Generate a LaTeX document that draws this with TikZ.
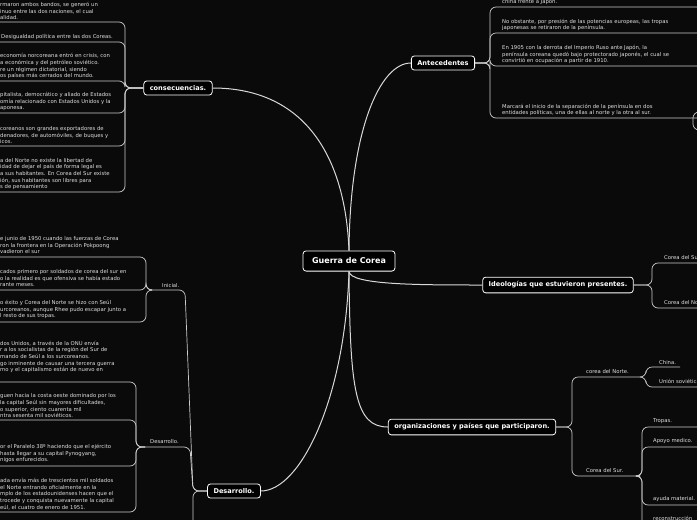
\documentclass[tikz,border=0pt]{standalone}
\usepackage{fontspec}
\setmainfont{DejaVu Sans}
\begin{document}
\begin{tikzpicture}[x=1pt,y=-1pt,
  ln/.style={draw=black!20!white, line width=0.7pt, rounded corners=6pt},
  mainln/.style={draw=black!15!white, line width=1pt},
  leaf/.style={text=black!12!white, font=\fontsize{5.3}{6.6}\selectfont, align=left, inner sep=0pt, anchor=south west},
  topic/.style={draw=white, line width=0.8pt, fill=black, rounded corners=3pt, text=white, font=\fontsize{6.6}{8}\selectfont\bfseries, inner xsep=6pt, inner ysep=4.5pt},
  center/.style={topic, font=\fontsize{8}{10}\selectfont\bfseries, inner xsep=9pt, inner ysep=7pt}]
\fill[black!96!white] (0,0) rectangle (697,520);
\useasboundingbox (0,0) rectangle (697,520);

\node[center] (c) at (349,261) {Guerra de Corea};
\node[topic] (ant) at (443,63) {Antecedentes};
\node[topic] (con) at (178,88) {consecuencias.};
\node[topic] (ide) at (558,285) {Ideologías que estuvieron presentes.};
\node[topic] (org) at (472,427) {organizaciones y países que participaron.};
\node[topic] (des) at (234,491) {Desarrollo.};

\draw[mainln] (c.north) .. controls (350,130) and (380,63) .. (ant.west);
\draw[mainln] (c.north) .. controls (345,150) and (300,88) .. (con.east);
\draw[mainln] (c.south) .. controls (350,285) and (420,285) .. (ide.west);
\draw[mainln] (c.south) .. controls (350,390) and (355,427) .. (org.west);
\draw[mainln] (c.south) .. controls (345,400) and (300,491) .. (des.east);

% consecuencias leaves
\coordinate (cr) at (con.west);
\foreach \y in {22,42,81,113,146,192}{\draw[ln] (cr) -- (125,88) -- (125,\y) -- (0,\y);}
\node[leaf] (c1) at (0,20) {rmaron ambos bandos, se generó un\\inuo entre las dos naciones, el cual\\alidad.};
\node[leaf] (c2) at (1,40) {Desigualdad política entre las dos Coreas.};
\node[leaf] (c3) at (0,79) {economía norcoreana entró en crisis, con\\a económica y del petróleo soviético.\\re un régimen dictatorial, siendo\\os países más cerrados del mundo.};
\node[leaf] (c4) at (0,111) {pitalista, democrático y aliado de Estados\\omía relacionado con Estados Unidos y la\\aponesa.};
\node[leaf] (c5) at (0,144) {coreanos son grandes exportadores de\\denadores, de automóviles, de buques y\\icos.};
\node[leaf] (c6) at (0,190) {a del Norte no existe la libertad de\\idad de dejar el país de forma legal es\\a sus habitantes. En Corea del Sur existe\\ión, sus habitantes son libres para\\s de pensamiento};

% Desarrollo subbranches
\draw[ln] (des.west) -- (193,491) -- (185,290) -- (150,290);
\draw[ln] (des.west) -- (193,491) -- (190,447) -- (145,447);
\draw[ln] (des.west) -- (193,491) -- (193,520);
\node[leaf] (ini) at (162,288) {Inicial.};
\node[leaf] (dsr) at (150,444) {Desarrollo.};
\foreach \y in {257,290,322}{\draw[ln] (150,290) -- (146,290) -- (146,\y) -- (0,\y);}
\node[leaf] (i1) at (0,254) {e junio de 1950 cuando las fuerzas de Corea\\ron la frontera en la Operación Pokpoong\\vadieron el sur};
\node[leaf] (i2) at (0,287) {cados primero por soldados de corea del sur en\\o la realidad es que ofensiva se había estado\\rante meses.};
\node[leaf] (i3) at (0,319) {o éxito y Corea del Norte se hizo con Seúl\\urcoreanos, aunque Rhee pudo escapar junto a\\l resto de sus tropas.};
\foreach \y in {382,420,466,512}{\draw[ln] (145,447) -- (136,447) -- (136,\y) -- (0,\y);}
\node[leaf] (d1) at (0,373) {dos Unidos, a través de la ONU envía\\r a los socialistas de la región del Sur de\\ mando de Seúl a los surcoreanos.\\go inminente de causar una tercera guerra\\mo y el capitalismo están de nuevo en};
\node[leaf] (d2) at (0,418) {guen hacia la costa oeste dominado por los\\la capital Seúl sin mayores dificultades,\\o superior, ciento cuarenta mil\\ntra sesenta mil soviéticos.};
\node[leaf] (d3) at (0,463) {or el Paralelo 38º haciendo que el ejército\\ hasta llegar a su capital Pynogyang,\\nigos enfurecidos.};
\node[leaf] (d4) at (0,510) {ada envía más de trescientos mil soldados\\el Norte entrando oficialmente en la\\mplo de los estadounidenses hacen que el\\trocede y conquista nuevamente la capital\\eúl, el cuatro de enero de 1951.};

% Antecedentes leaves
\foreach \y in {7,33,66,118}{\draw[ln] (ant.east) -- (490,63) -- (490,\y) -- (697,\y);}
\draw[ln] (697,112) -- (693,112) -- (693,130) -- (697,130);
\node[leaf] (a1) at (502,5) {china frente a Japón.};
\node[leaf] (a2) at (502,31) {No obstante, por presión de las potencias europeas, las tropas\\japonesas se retiraron de la península.};
\node[leaf] (a3) at (502,64) {En 1905 con la derrota del Imperio Ruso ante Japón, la\\península coreana quedó bajo protectorado japonés, el cual se\\convirtió en ocupación a partir de 1910.};
\node[leaf] (a4) at (502,116) {Marcará el inicio de la separación de la península en dos\\entidades políticas, una de ellas al norte y la otra al sur.};

% Ideologias leaves
\foreach \y in {263,308}{\draw[ln] (ide.east) -- (652,285) -- (652,\y) -- (697,\y);}
\node[leaf] (s1) at (664,260) {Corea del Sur};
\node[leaf] (s2) at (664,305) {Corea del Norte};

% organizaciones
\foreach \y in {377,476}{\draw[ln] (org.east) -- (572,427) -- (572,\y) -- (640,\y);}
\node[leaf] (on) at (586,374) {corea del Norte.};
\node[leaf] (os) at (586,473) {Corea del Sur.};
\foreach \y/\e in {367/680,387/697}{\draw[ln] (640,377) -- (646,377) -- (646,\y) -- (\e,\y);}
\node[leaf] (n1) at (659,365) {China.};
\node[leaf] (n2) at (659,384) {Unión soviética.};
\foreach \y in {427,447,505,527}{\draw[ln] (640,476) -- (642,476) -- (642,\y) -- (697,\y);}
\node[leaf] (t1) at (653,424) {Tropas.};
\node[leaf] (t2) at (653,444) {Apoyo medico.};
\node[leaf] (t3) at (653,502) {ayuda material.};
\node[leaf] (t4) at (653,521) {reconstrucción};
\end{tikzpicture}
\end{document}
